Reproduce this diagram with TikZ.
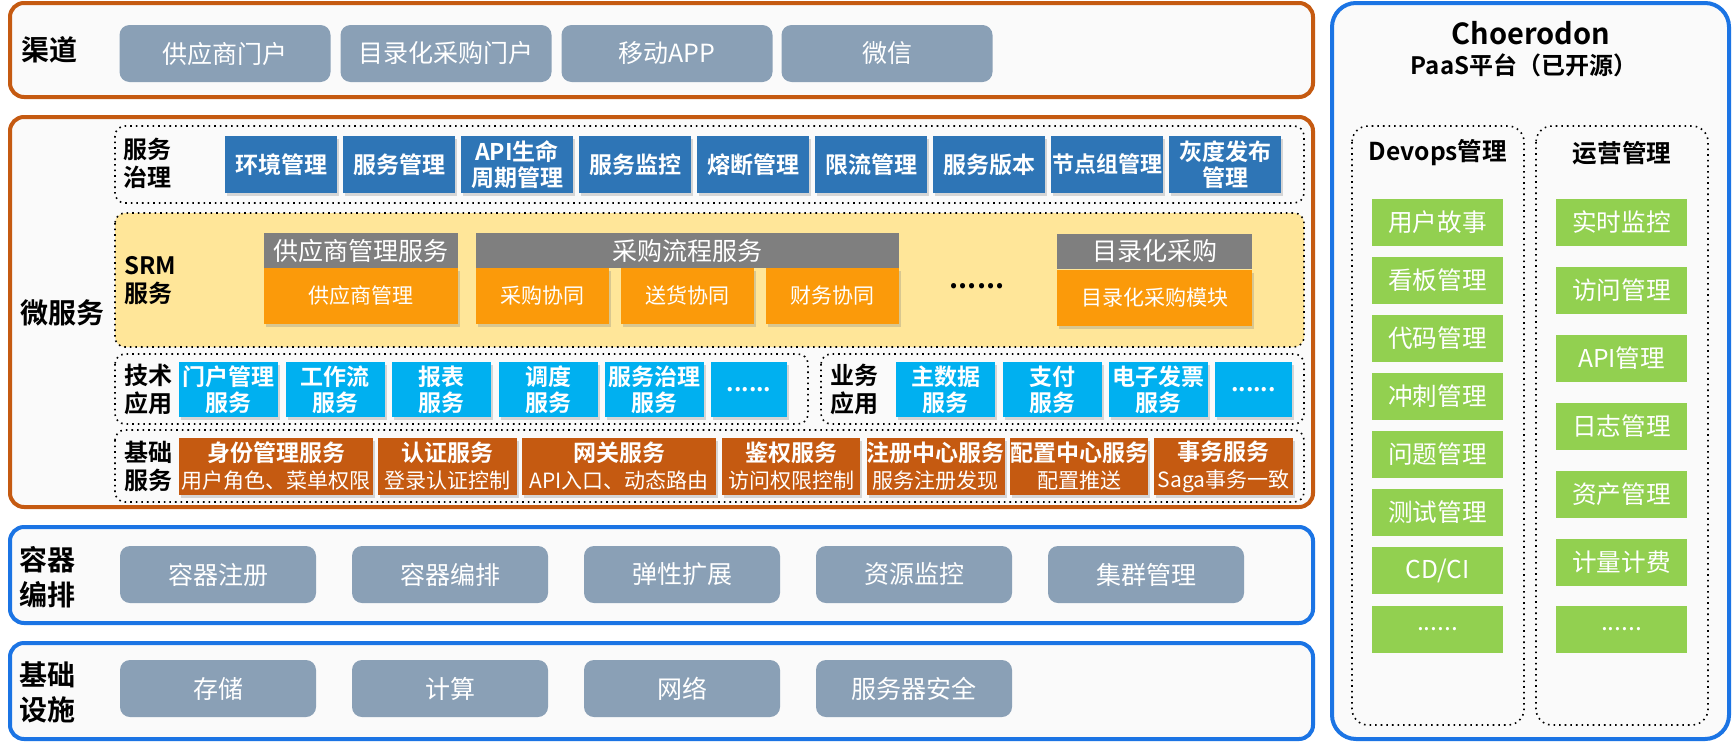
\documentclass[tikz,border=0pt]{standalone}
\usepackage{fontspec}
\setmainfont{Noto Sans CJK SC}[BoldFont={Noto Sans CJK SC Bold}]
\usetikzlibrary{shadows}
\definecolor{edgeorange}{HTML}{C55A11}
\definecolor{edgeblue}{HTML}{1B74E4}
\definecolor{panelbg}{HTML}{FAFAFA}
\definecolor{chgray}{HTML}{8AA0B6}
\definecolor{govblue}{HTML}{2E75B6}
\definecolor{srmyellow}{HTML}{FFE699}
\definecolor{hdgray}{HTML}{7F7F7F}
\definecolor{modorange}{HTML}{FB9A0A}
\definecolor{appcyan}{HTML}{00B0F0}
\definecolor{basebrown}{HTML}{C55A11}
\definecolor{opsgreen}{HTML}{92D050}

\begin{document}
\begin{tikzpicture}[x=0.5pt,y=-0.5pt]
    % Define styles
    \tikzstyle{panelO} = [draw=edgeorange, line width=2pt, rounded corners=7pt, fill=panelbg]
    \tikzstyle{panelB} = [draw=edgeblue, line width=2pt, rounded corners=7pt, fill=panelbg]
    \tikzstyle{dotframe} = [draw=black, dotted, line width=0.8pt, rounded corners=5pt]
    \tikzstyle{layerlabel} = [font=\bfseries\fontsize{14}{17.5}\selectfont, align=center]
    \tikzstyle{sublabel} = [font=\bfseries\fontsize{12}{14}\selectfont, align=left]
    \tikzstyle{boxshadow} = [drop shadow={shadow xshift=1pt, shadow yshift=-1.5pt, opacity=0.3}]
    \tikzstyle{chanbox} = [rectangle, rounded corners=5pt, fill=chgray, text=white, minimum width=105.5pt,
                          minimum height=28.5pt, font=\fontsize{12.5}{15}\selectfont]
    \tikzstyle{infrabox} = [chanbox, minimum width=98pt]
    \tikzstyle{govbox} = [rectangle, fill=govblue, text=white, inner sep=0pt, minimum width=56pt, minimum height=28.5pt,
                          font=\bfseries\fontsize{11.5}{13}\selectfont, align=center, boxshadow]
    \tikzstyle{headbox} = [rectangle, fill=hdgray, text=white, inner sep=0pt, minimum height=17.5pt,
                          font=\fontsize{12.5}{15}\selectfont]
    \tikzstyle{modbox} = [rectangle, fill=modorange, text=white, inner sep=0pt, minimum height=28pt,
                          font=\fontsize{10.5}{12}\selectfont, boxshadow]
    \tikzstyle{appbox} = [rectangle, fill=appcyan, text=white, inner sep=0pt, minimum width=49.5pt, minimum height=27.5pt,
                          font=\bfseries\fontsize{11.5}{13}\selectfont, align=center, boxshadow]
    \tikzstyle{basebox} = [rectangle, fill=basebrown, text=white, inner sep=0pt, minimum height=28.5pt,
                          font=\fontsize{10.5}{13.5}\selectfont, align=center, boxshadow]
    \tikzstyle{opsbox} = [rectangle, fill=opsgreen, text=white, minimum width=65.5pt, minimum height=23.5pt,
                          font=\fontsize{12.3}{15}\selectfont]

    \useasboundingbox[fill=white] (0,0) rectangle (1732,744);

    % Panels
    \draw[panelO] (10,3) rectangle (1313,97);
    \draw[panelO] (10,117) rectangle (1313,507);
    \draw[panelB] (10,527) rectangle (1313,623);
    \draw[panelB] (10,643) rectangle (1313,739);
    \draw[panelB, rounded corners=12pt] (1332,3) rectangle (1729,739);

    % Channels
    \node[layerlabel] (channel) at (49,50) {渠道};
    \node[chanbox] (supplierportal) at (225,53.5) {供应商门户};
    \node[chanbox] (catalogportal) at (446,53.5) {目录化采购门户};
    \node[chanbox] (mobileapp) at (667,53.5) {移动APP};
    \node[chanbox] (wechat) at (887,53.5) {微信};

    % Microservices
    \node[layerlabel] (microsvc) at (62,313) {微服务};

    \draw[dotframe] (115,126) rectangle (1304,203);
    \node[sublabel] (governance) at (147.5,163.5) {服务\\治理};
    \node[govbox] (envmgmt) at (281,164.5) {环境管理};
    \node[govbox] (svcmgmt) at (399,164.5) {服务管理};
    \node[govbox] (apilife) at (517,164.5) {API生命\\周期管理};
    \node[govbox] (svcmonitor) at (635,164.5) {服务监控};
    \node[govbox] (breaker) at (753,164.5) {熔断管理};
    \node[govbox] (ratelimit) at (871,164.5) {限流管理};
    \node[govbox] (svcversion) at (989,164.5) {服务版本};
    \node[govbox, font=\bfseries\fontsize{11}{13}\selectfont] (nodegroup) at (1107,164.5) {节点组管理};
    \node[govbox] (grayrelease) at (1225,164.5) {灰度发布\\管理};

    \draw[dotframe, fill=srmyellow] (115,213) rectangle (1304,347);
    \node[sublabel, anchor=west, inner sep=0pt] (srm) at (124,281) {SRM\\服务};
    \node[headbox, minimum width=97pt] (supplierhead) at (361,250.5) {供应商管理服务};
    \node[modbox, minimum width=97pt] (suppliermgmt) at (361,295.5) {供应商管理};
    \node[headbox, minimum width=211.5pt] (purchasehead) at (687.5,250.5) {采购流程服务};
    \node[modbox, minimum width=66.5pt] (purchasecoop) at (542.5,295.5) {采购协同};
    \node[modbox, minimum width=66.5pt] (deliverycoop) at (687.5,295.5) {送货协同};
    \node[modbox, minimum width=66.5pt] (financecoop) at (832.5,295.5) {财务协同};
    \node[font=\bfseries\fontsize{14}{16}\selectfont] (srmmore) at (977,286) {......};
    \node[headbox, minimum width=97.5pt] (cataloghead) at (1154.5,251.5) {目录化采购};
    \node[modbox, minimum width=97.5pt] (catalogmod) at (1154.5,297.5) {目录化采购模块};

    \draw[dotframe] (115,354) rectangle (808,424);
    \node[sublabel] (techapp) at (148,389) {技术\\应用};
    \node[appbox] (portalsvc) at (228.5,389.5) {门户管理\\服务};
    \node[appbox] (workflow) at (335,389.5) {工作流\\服务};
    \node[appbox] (report) at (441.5,389.5) {报表\\服务};
    \node[appbox] (schedule) at (548,389.5) {调度\\服务};
    \node[appbox] (govsvc) at (654.5,389.5) {服务治理\\服务};
    \node[appbox, minimum width=38pt] (techmore) at (749,389.5) {......};

    \draw[dotframe] (821,354) rectangle (1304,424);
    \node[sublabel] (bizapp) at (854,389) {业务\\应用};
    \node[appbox] (masterdata) at (945.5,389.5) {主数据\\服务};
    \node[appbox] (payment) at (1052,389.5) {支付\\服务};
    \node[appbox] (invoice) at (1158,389.5) {电子发票\\服务};
    \node[appbox, minimum width=38.5pt] (bizmore) at (1253.5,389.5) {......};

    \draw[dotframe] (115,430) rectangle (1304,502);
    \node[sublabel] (basesvc) at (148,466) {基础\\服务};
    \node[basebox, minimum width=97pt] (identity) at (276,466.5) {{\bfseries\fontsize{11.5}{13}\selectfont 身份管理服务}\\用户角色、菜单权限};
    \node[basebox, minimum width=69.5pt] (auth) at (447.5,466.5) {{\bfseries\fontsize{11.5}{13}\selectfont 认证服务}\\登录认证控制};
    \node[basebox, minimum width=97pt] (gateway) at (619,466.5) {{\bfseries\fontsize{11.5}{13}\selectfont 网关服务}\\API入口、动态路由};
    \node[basebox, minimum width=69pt] (permission) at (791,466.5) {{\bfseries\fontsize{11.5}{13}\selectfont 鉴权服务}\\访问权限控制};
    \node[basebox, minimum width=68.5pt] (registry) at (935.5,466.5) {{\bfseries\fontsize{11.5}{13}\selectfont 注册中心服务}\\服务注册发现};
    \node[basebox, minimum width=69pt] (config) at (1079,466.5) {{\bfseries\fontsize{11.5}{13}\selectfont 配置中心服务}\\配置推送};
    \node[basebox, minimum width=69.5pt] (transaction) at (1223.5,466.5) {{\bfseries\fontsize{11.5}{13}\selectfont 事务服务}\\Saga事务一致};

    % Container orchestration
    \node[layerlabel] (container) at (47,577) {容器\\编排};
    \node[infrabox] (containerreg) at (218,574.5) {容器注册};
    \node[infrabox] (orchestrate) at (450,574.5) {容器编排};
    \node[infrabox] (scaling) at (682,574.5) {弹性扩展};
    \node[infrabox] (resmonitor) at (914,574.5) {资源监控};
    \node[infrabox] (cluster) at (1146,574.5) {集群管理};

    % Infrastructure
    \node[layerlabel] (infra) at (47,692) {基础\\设施};
    \node[infrabox] (storage) at (218,688.5) {存储};
    \node[infrabox] (compute) at (450,688.5) {计算};
    \node[infrabox] (network) at (682,688.5) {网络};
    \node[infrabox] (security) at (914,688.5) {服务器安全};

    % Choerodon platform
    \node[font=\bfseries\fontsize{14.5}{17}\selectfont] (choerodon) at (1531,33) {Choerodon};
    \node[font=\bfseries\fontsize{12}{15}\selectfont] (paas) at (1524,65) {PaaS平台（已开源）};

    \draw[dotframe, rounded corners=8pt] (1352,126) rectangle (1524,725);
    \node[font=\bfseries\fontsize{12.3}{15}\selectfont] (devops) at (1438,153) {Devops管理};
    \node[opsbox] (story) at (1437.5,222.5) {用户故事};
    \node[opsbox] (kanban) at (1437.5,280.5) {看板管理};
    \node[opsbox] (code) at (1437.5,338.5) {代码管理};
    \node[opsbox] (sprint) at (1437.5,396.5) {冲刺管理};
    \node[opsbox] (issue) at (1437.5,454.5) {问题管理};
    \node[opsbox] (testing) at (1437.5,512.5) {测试管理};
    \node[opsbox] (cdci) at (1437.5,570.5) {CD/CI};
    \node[opsbox] (devopsmore) at (1437.5,629.5) {......};

    \draw[dotframe, rounded corners=8pt] (1536,126) rectangle (1708,725);
    \node[font=\bfseries\fontsize{12.3}{15}\selectfont] (operation) at (1622,153) {运营管理};
    \node[opsbox] (realtime) at (1621.5,222.5) {实时监控};
    \node[opsbox] (access) at (1621.5,290.5) {访问管理};
    \node[opsbox] (apimgmt) at (1621.5,358.5) {API管理};
    \node[opsbox] (logmgmt) at (1621.5,426.5) {日志管理};
    \node[opsbox] (asset) at (1621.5,494.5) {资产管理};
    \node[opsbox] (billing) at (1621.5,562.5) {计量计费};
    \node[opsbox] (opsmore) at (1621.5,629.5) {......};
\end{tikzpicture}
\end{document}
